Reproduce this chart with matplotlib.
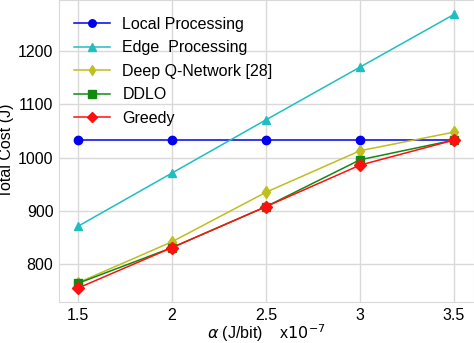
import matplotlib
matplotlib.use("Agg")
import matplotlib.pyplot as plt

alpha = [1.5, 2.0, 2.5, 3.0, 3.5]
local = [1034, 1034, 1034, 1034, 1034]
edge = [871, 971, 1071, 1170, 1269]
dqn = [765, 842, 935, 1013, 1048]
ddlo = [764, 831, 908, 996, 1033]
greedy = [755, 831, 908, 986, 1033]
xticks = [1.5, 2, 2.5, 3, 3.5]
xticklabels = ["1.5", "2", "2.5", "3", "3.5"]
yticks = [800, 900, 1000, 1100, 1200]

plt.rcParams['font.family'] = ['Liberation Sans', 'DejaVu Sans']
plt.rcParams['mathtext.fontset'] = 'dejavusans'

fig = plt.figure(figsize=(4.74, 3.43), dpi=100)
ax = fig.add_axes([59/474, 1-302/343, 1-59/474, 302/343])

ax.plot(alpha, local, '-o', color='#0000ee', lw=1.1, ms=6, label='Local Processing')
ax.plot(alpha, edge, '-^', color='#1fbfbf', lw=1.1, ms=6, label='Edge  Processing')
ax.plot(alpha, dqn, '-d', color='#bfbf1f', lw=1.1, ms=6, label='Deep Q-Network [28]')
ax.plot(alpha, ddlo, '-s', color='#128a12', lw=1.1, ms=6, label='DDLO')
ax.plot(alpha, greedy, '-D', color='#ff1010', lw=1.1, ms=6, label='Greedy')

ax.set_xlim(1.4, 3.606)
ax.set_ylim(729, 1296)
ax.set_xticks(xticks)
ax.set_xticklabels(xticklabels)
ax.set_yticks(yticks)
ax.tick_params(labelsize=11.5, length=0)
ax.tick_params(axis='y', pad=4)
ax.tick_params(axis='x', pad=4)
ax.grid(True, color='#d9d9d9', lw=1)
for s in ax.spines.values():
    s.set_color('#d9d9d9')
ax.set_xlabel(r'$\alpha$ (J/bit)    x$10^{-7}$', fontsize=11.5, labelpad=0)
ax.set_ylabel('Total Cost (J)', fontsize=11.5, labelpad=3)
ax.legend(loc='upper left', frameon=False, fontsize=11.5, handlelength=2.3,
          handletextpad=0.75, labelspacing=0.53, borderaxespad=0, markerscale=0.9,
          bbox_to_anchor=(0.02, 0.965))

fig.savefig('out.png', dpi=100)
